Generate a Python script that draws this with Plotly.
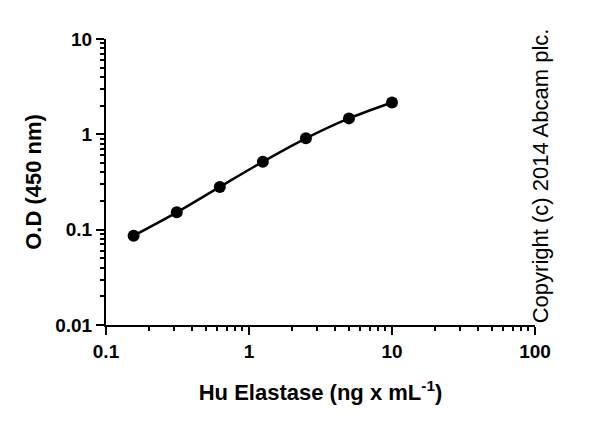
import plotly.graph_objects as go

concentration = [0.156, 0.3125, 0.625, 1.25, 2.5, 5, 10]
od_450 = [0.0865, 0.152, 0.281, 0.516, 0.908, 1.47, 2.16]

x_ticks = [0.1, 1, 10, 100]
x_tick_labels = ["0.1", "1", "10", "100"]
y_ticks = [0.01, 0.1, 1, 10]
y_tick_labels = ["0.01", "0.1", "1", "10"]

x_minor = [m * d for d in [0.1, 1, 10] for m in range(2, 10)]
y_minor = [m * d for d in [0.01, 0.1, 1] for m in range(2, 10)]

font_family = "Liberation Sans, Arial, sans-serif"

fig = go.Figure()
fig.add_trace(go.Scatter(
    x=concentration, y=od_450,
    mode="lines+markers",
    line=dict(color="black", width=2.5, shape="spline", smoothing=1),
    marker=dict(color="black", size=12),
    showlegend=False,
))

axis_common = dict(
    type="log",
    showline=True, linecolor="black", linewidth=2,
    ticks="outside", ticklen=8, tickwidth=2, tickcolor="black",
    showgrid=False, zeroline=False,
    tickfont=dict(family=font_family, size=19, color="black", weight="bold"),
    tickmode="array",
)

fig.update_xaxes(
    **axis_common,
    range=[-1, 2],
    tickvals=x_ticks, ticktext=x_tick_labels,
    minor=dict(tickmode="array", tickvals=x_minor, ticks="outside", ticklen=4, tickwidth=2, tickcolor="black", showgrid=False),
    title=dict(text="Hu Elastase (ng x mL<sup>-1</sup>)", standoff=24,
               font=dict(family=font_family, size=22, color="black", weight="bold")),
)
fig.update_yaxes(
    **axis_common,
    range=[-2, 1],
    tickvals=y_ticks, ticktext=y_tick_labels,
    minor=dict(tickmode="array", tickvals=y_minor, ticks="outside", ticklen=4, tickwidth=2, tickcolor="black", showgrid=False),
    title=dict(text="O.D (450 nm)", standoff=8,
               font=dict(family=font_family, size=22, color="black", weight="bold")),
)

fig.add_annotation(
    text="Copyright (c) 2014 Abcam plc.",
    xref="paper", yref="paper", x=1.0117, y=0.52,
    xanchor="center", yanchor="middle",
    textangle=-90, showarrow=False,
    font=dict(family=font_family, size=22, color="black"),
)

fig.update_layout(
    width=600, height=422,
    margin=dict(l=98, r=73, t=31, b=105),
    paper_bgcolor="white", plot_bgcolor="white",
)

fig.write_html("out.html")
